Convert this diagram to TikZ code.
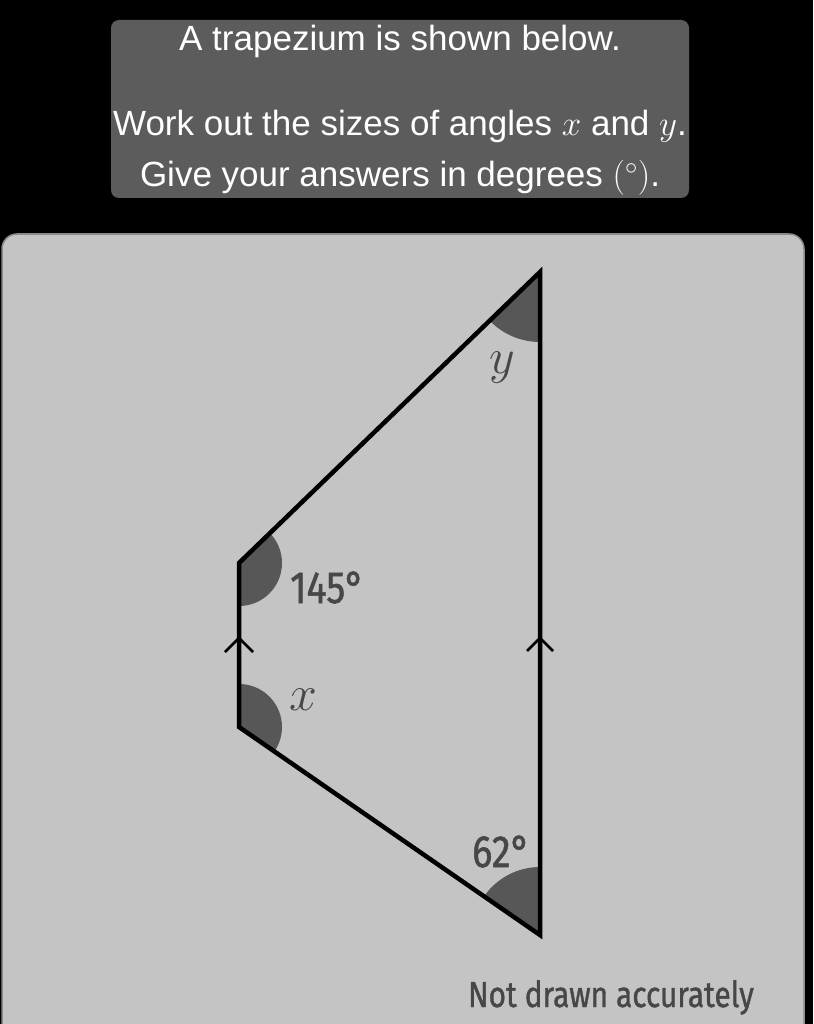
\documentclass[tikz,border=0pt]{standalone}
\usepackage{fix-cm}
\usepackage{fontspec}
\setmainfont{Liberation Sans}
\newfontfamily\labelfont[FakeBold=1.2]{Fira Sans}
\definecolor{topbox}{HTML}{5C5C5C}
\definecolor{panel}{HTML}{C4C4C4}
\definecolor{panelborder}{HTML}{8A8A8A}
\definecolor{anglefill}{HTML}{575757}
\definecolor{labelgray}{HTML}{474747}
\tikzset{
  toptext/.style={text=white, font=\fontsize{35}{42}\selectfont, inner sep=0pt, anchor=base},
  numlabel/.style={text=labelgray, font=\labelfont\fontsize{45}{50}\selectfont, inner sep=0pt, anchor=base west, xscale=0.84},
  notelabel/.style={text=labelgray, font=\labelfont\fontsize{36}{40}\selectfont, inner sep=0pt, anchor=base west, xscale=0.83},
  mathlabel/.style={text=labelgray, font=\fontsize{50}{55}\selectfont, inner sep=0pt, anchor=base west},
  edge/.style={line width=4.5pt, line join=miter, black},
  parmark/.style={line width=2.5pt, black},
  sector/.style={fill=anglefill}
}
\begin{document}
\begin{tikzpicture}[x=1pt,y=1pt]
\useasboundingbox (0,0) rectangle (813,-1024);
\clip (0,0) rectangle (813,-1024);
\fill[black] (0,0) rectangle (813,-1024);
% top box
\fill[topbox, rounded corners=8pt] (111,-20) rectangle (689,-198);
\node[toptext] (t1) at (400,-51) {A trapezium is shown below.};
\node[toptext] (t2) at (400,-136) {Work out the sizes of angles $x$ and $y$.};
\node[toptext] (t3) at (400,-187) {Give your answers in degrees $(^\circ)$.};
% panel
\filldraw[fill=panel, draw=panelborder, line width=1.5pt, rounded corners=15pt] (2,-234) rectangle (804,-1060);
% vertices
\coordinate (T) at (540,-272);
\coordinate (B) at (540,-935);
\coordinate (U) at (239,-563);
\coordinate (L) at (239,-727);
% angle sectors
\fill[sector] (T) -- ++(224.03:70) arc[start angle=224.03, end angle=270, radius=70] -- cycle;
\fill[sector] (U) -- ++(-90:43) arc[start angle=-90, end angle=44.03, radius=43] -- cycle;
\fill[sector] (L) -- ++(-34.65:43) arc[start angle=-34.65, end angle=90, radius=43] -- cycle;
\fill[sector] (B) -- ++(90:68) arc[start angle=90, end angle=145.35, radius=68] -- cycle;
% trapezium
\draw[edge] (T) -- (U) -- (L) -- (B) -- cycle;
% parallel marks
\coordinate (P1) at (239,-638);
\coordinate (P2) at (540,-638);
\draw[parmark] (P1) ++(-14,-14) -- (P1) -- ++(14,-14);
\draw[parmark] (P2) ++(-13,-13) -- (P2) -- ++(13,-13);
% labels
\node[mathlabel] (ly) at (489,-373) {$y$};
\node[numlabel] (l145) at (290,-603) {145°};
\node[mathlabel] (lx) at (289,-710) {$x$};
\node[numlabel] (l62) at (472,-867) {62°};
\node[notelabel] (note) at (468,-1007) {Not drawn accurately};
\end{tikzpicture}
\end{document}
